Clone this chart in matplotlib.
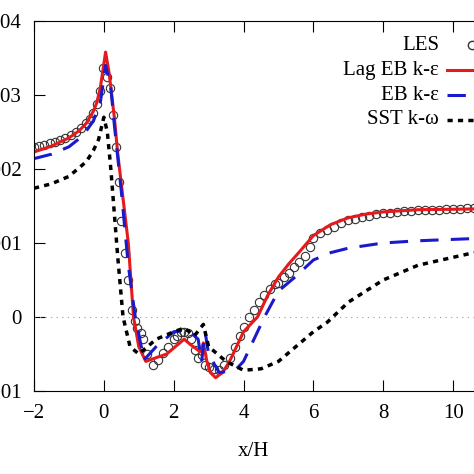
import matplotlib
matplotlib.use("Agg")
import matplotlib.pyplot as plt
import numpy as np

plt.rcParams["font.family"] = ["Liberation Serif", "DejaVu Serif"]

les_x = [-2, -1.85, -1.7, -1.55, -1.4, -1.25, -1.1, -0.95, -0.8, -0.65, -0.5, -0.4, -0.3,
         -0.2, -0.1, -0.02, 0.08, 0.18, 0.27, 0.35, 0.42, 0.5, 0.61, 0.7, 0.8, 0.88, 0.95, 1.05,
         1.13, 1.25, 1.4, 1.55, 1.7, 1.85, 2.0, 2.1, 2.2, 2.3, 2.4, 2.5, 2.6, 2.7, 2.8, 2.9,
         3.0, 3.15, 3.3, 3.45, 3.6, 3.75, 3.9, 4.0, 4.15, 4.3, 4.45, 4.6, 4.75, 4.9, 5.0, 5.15,
         5.3, 5.45, 5.6, 5.75, 5.9, 6.0, 6.2, 6.4, 6.6, 6.8, 7.0, 7.2, 7.4, 7.6, 7.8, 8.0, 8.2,
         8.4, 8.6, 8.8, 9.0, 9.2, 9.4, 9.6, 9.8, 10.0, 10.2, 10.4, 10.6]
les_y = [0.0023, 0.00231, 0.00233, 0.00235, 0.00237, 0.00239, 0.00242, 0.00246, 0.0025,
         0.00255, 0.00262, 0.00268, 0.00276, 0.00288, 0.00305, 0.00336, 0.00325, 0.0031,
         0.00273, 0.0023, 0.00183, 0.0013, 0.00086, 0.0005, 0.0001, -0.00005, -0.00015,
         -0.00022, -0.0003, -0.0005, -0.00065, -0.00058, -0.00048, -0.0004, -0.0003, -0.00025,
         -0.0002, -0.0002, -0.00022, -0.0003, -0.00045, -0.00055, -0.00052, -0.00065,
         -0.00068, -0.0007, -0.00072, -0.00065, -0.00055, -0.0004, -0.00025, -0.00014, 0.0,
         0.0001, 0.0002, 0.0003, 0.00038, 0.00044, 0.00046, 0.00054, 0.0006, 0.00068, 0.00075,
         0.00082, 0.00095, 0.00107, 0.00113, 0.00118, 0.00122, 0.00127, 0.00131, 0.00133,
         0.00135, 0.00137, 0.00139, 0.0014, 0.00141, 0.00142, 0.00143, 0.00143, 0.00144,
         0.00144, 0.00145, 0.00145, 0.00146, 0.00146, 0.00146, 0.00147, 0.00147]

lag_x = [-2, -1.5, -1, -0.7, -0.5, -0.3, -0.2, -0.1, 0.05, 0.15, 0.3, 0.4, 0.5, 0.6, 0.7,
         0.85, 1.0, 1.2, 1.5, 1.8, 2.05, 2.3, 2.5, 2.76, 2.85, 2.95, 3.05, 3.2, 3.4, 3.6, 3.8,
         4.0, 4.2, 4.4, 4.7, 5.0, 5.3, 5.6, 6.0, 6.5, 7.0, 7.5, 8.0, 9.0, 10.6]
lag_y = [0.00223, 0.00231, 0.00242, 0.00252, 0.00262, 0.00278, 0.0029, 0.0031, 0.00358,
         0.0033, 0.0027, 0.0022, 0.0018, 0.0014, 0.001, 0.0, -0.0004, -0.0006, -0.00055,
         -0.0005, -0.0004, -0.0003, -0.00038, -0.00047, -0.00035, -0.0006, -0.00075, -0.00082,
         -0.00075, -0.0006, -0.0004, -0.0002, -0.0001, 0.0, 0.0003, 0.00054, 0.00072, 0.00088,
         0.0011, 0.00125, 0.00134, 0.00139, 0.00142, 0.00145, 0.00146]

eb_x = [-2, -1.5, -1, -0.6, -0.3, -0.1, 0.05, 0.2, 0.3, 0.5, 0.7, 0.9, 1.15, 1.5, 2.0, 2.4,
        2.7, 2.8, 2.9, 3.0, 3.3, 3.6, 3.8, 4.0, 4.2, 4.4, 4.6, 5.0, 5.5, 6.0, 6.5, 7.0, 8.0,
        9.0, 10.6]
eb_y = [0.00214, 0.0022, 0.0023, 0.00245, 0.00265, 0.0029, 0.0034, 0.0031, 0.0026, 0.0017,
        0.0007, 0.0, -0.00058, -0.0004, -0.0002, -0.00017, -0.0003, -0.0006, -0.0002,
        -0.0005, -0.00075, -0.00073, -0.0007, -0.0006, -0.0004, -0.0002, 0.0, 0.00035,
        0.00055, 0.00077, 0.00087, 0.00093, 0.001, 0.00103, 0.00106]

sst_x = [-2, -1.5, -1, -0.5, -0.3, -0.15, 0.0, 0.1, 0.2, 0.3, 0.4, 0.55, 0.75, 1.0, 1.5,
         2.0, 2.3, 2.6, 2.85, 3.0, 3.5, 4.0, 4.5, 5.0, 5.5, 6.0, 6.4, 7.0, 7.5, 8.0, 9.0, 10.6]
sst_y = [0.00174, 0.0018, 0.0019, 0.0021, 0.00225, 0.0024, 0.0027, 0.0025, 0.002, 0.0014,
         0.0008, 0.0, -0.0004, -0.0005, -0.0003, -0.0002, -0.00015, -0.00025, -0.0001,
         -0.0004, -0.0006, -0.00072, -0.0007, -0.0006, -0.0004, -0.0002, -0.00007, 0.0002,
         0.00035, 0.0005, 0.0007, 0.00087]

labels = ["LES", "Lag EB k-ε", "EB k-ε", "SST k-ω"]

fig = plt.figure(figsize=(4.74, 4.74), dpi=100)
ax = fig.add_axes([34 / 474, 83 / 474, 440 / 474, 370 / 474])
ax.set_xlim(-2, 10.6)
ax.set_ylim(-0.001, 0.004)

ax.axhline(0, color="#999999", lw=0.8, ls=(0, (1, 4)))
ax.plot(les_x, les_y, ls="none", marker="o", mfc="none", mec="#333333", ms=6, mew=0.8)
ax.plot(lag_x, lag_y, color="#e41a1c", lw=2.2)
ax.plot(eb_x, eb_y, color="#1a1acc", lw=2.2, ls=(0, (6, 4)))
ax.plot(sst_x, sst_y, color="black", lw=2.5, ls=(0, (1.5, 1.5)))

ax.spines["right"].set_visible(False)
ax.set_xticks(np.arange(-2, 11, 2))
ax.set_yticks([-0.001, 0, 0.001, 0.002, 0.003, 0.004])
ax.set_yticklabels(["-0.001", "0", "0.001", "0.002", "0.003", "0.004"])
ax.tick_params(direction="in", top=True, length=8, labelsize=15, pad=9)
ax.set_xlabel("x/H", fontsize=15, labelpad=14)

# gnuplot-style key: right-aligned text, sample to the right
styles = [dict(ls="none", marker="o", mfc="none", mec="#333333", ms=6),
          dict(color="#e41a1c", lw=2.2),
          dict(color="#1a1acc", lw=2.2, ls=(0, (6, 4))),
          dict(color="black", lw=2.5, ls=(0, (1.5, 1.5)))]
for i, (lab, st) in enumerate(zip(labels, styles)):
    yy = 1 - (24 + 25 * i) / 370
    ax.text(405 / 440, yy, lab, transform=ax.transAxes, ha="right", va="center", fontsize=15)
    if i == 0:
        ax.plot([438 / 440], [yy], transform=ax.transAxes, clip_on=False, **st)
    else:
        ax.plot([413 / 440, 470 / 440], [yy, yy], transform=ax.transAxes, clip_on=False, **st)

fig.savefig("out.png", dpi=100)
